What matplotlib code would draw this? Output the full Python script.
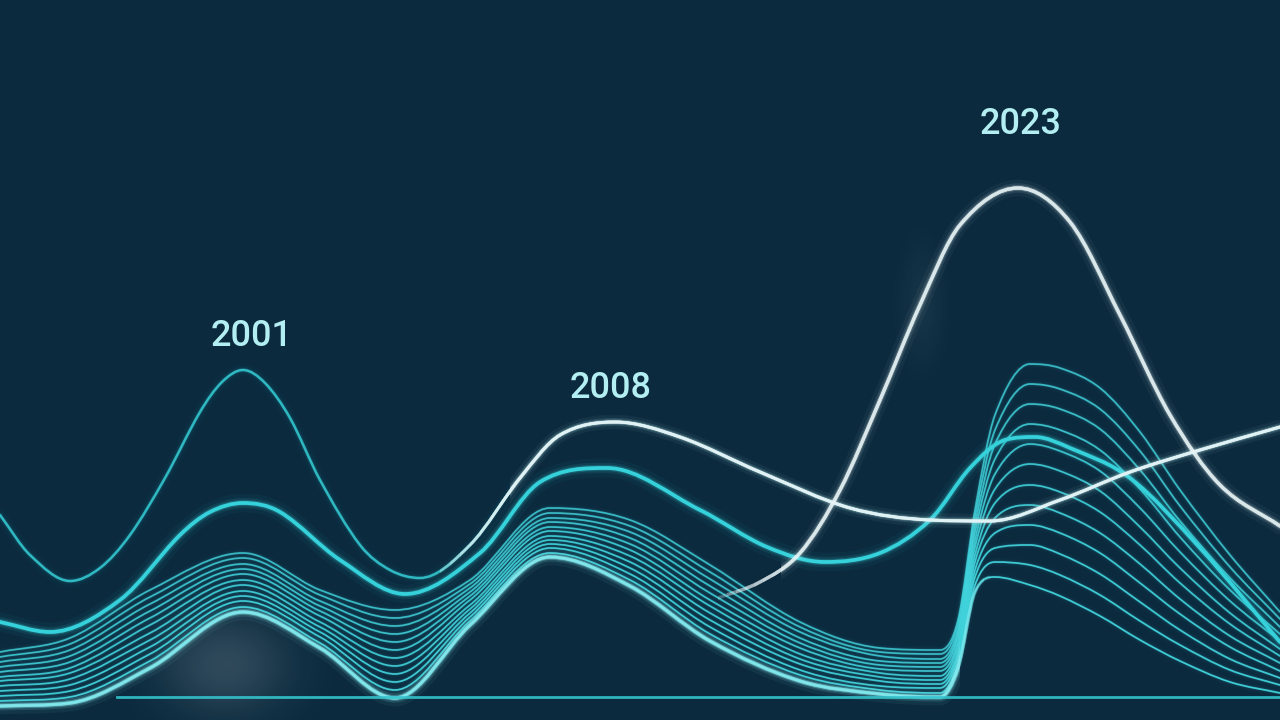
import numpy as np
import matplotlib
matplotlib.use("Agg")
import matplotlib.pyplot as plt
from matplotlib.path import Path
from matplotlib.patches import PathPatch, Rectangle

# --- data (x along the time axis, y as depth from the top of the frame) ---
labels = ["2001", "2008", "2023"]
label_x = [252, 611, 1021]
label_y = [336, 388, 125]

# thin wave that turns white after the 2001 dip
wave_a_x = [0, 30, 70, 100, 130, 165, 200, 222, 243, 265, 290, 320, 360, 390, 420, 470, 520, 560, 615, 680, 760, 850, 930, 990, 1060, 1130, 1200, 1280]
wave_a_y = [515, 555, 581, 568, 535, 478, 412, 382, 370, 383, 418, 480, 545, 570, 578, 545, 478, 435, 422, 437, 472, 508, 520, 521, 500, 472, 450, 427]

# thick cyan wave
wave_b_x = [0, 50, 120, 180, 210, 243, 280, 340, 405, 480, 540, 607, 700, 767, 825, 880, 930, 970, 1005, 1035, 1070, 1130, 1200, 1280]
wave_b_y = [622, 632, 600, 535, 512, 503, 512, 560, 594, 553, 482, 468, 510, 547, 562, 553, 520, 468, 440, 437, 448, 478, 548, 642]

# white wave with the 2023 peak
wave_c_x = [718, 760, 800, 840, 880, 920, 960, 1018, 1070, 1120, 1170, 1220, 1280]
wave_c_y = [598, 582, 553, 490, 400, 305, 225, 188, 222, 315, 415, 485, 526]

# bundle of 12 thin lines, one row per x position (top line first)
bundle_x = [0, 70, 150, 243, 320, 395, 470, 550, 630, 710, 800, 880, 940, 958, 975, 995, 1030,
            1060, 1100, 1140, 1180, 1230, 1280]
bundle_by_x = [
    [652, 657, 662, 667, 672, 677, 681, 686, 691, 696, 701, 706],
    [638, 644, 650, 656, 662, 668, 673, 679, 685, 691, 697, 703],
    [590, 597, 604, 611, 618, 625, 633, 640, 647, 654, 661, 668],
    [553, 558, 564, 569, 574, 580, 585, 591, 596, 601, 607, 612],
    [590, 595, 601, 606, 611, 616, 622, 627, 632, 637, 643, 648],
    [610, 618, 626, 634, 642, 650, 658, 666, 674, 682, 690, 698],
    [580, 584, 588, 592, 596, 600, 605, 609, 613, 617, 621, 625],
    [508, 513, 518, 522, 527, 531, 536, 540, 544, 548, 553, 557],
    [520, 526, 532, 538, 544, 550, 556, 562, 568, 574, 580, 586],
    [565, 572, 579, 586, 593, 600, 606, 613, 620, 627, 634, 641],
    [622, 627, 632, 638, 643, 648, 654, 659, 664, 670, 675, 681],
    [648, 652, 656, 661, 665, 669, 673, 677, 681, 686, 690, 694],
    [650, 654, 659, 663, 667, 671, 676, 680, 684, 688, 693, 697],
    [620, 624, 629, 633, 637, 642, 646, 651, 655, 659, 664, 668],
    [510, 517, 525, 532, 540, 547, 555, 562, 570, 577, 585, 592],
    [415, 430, 444, 459, 474, 489, 503, 518, 533, 548, 562, 577],
    [364, 384, 404, 424, 444, 464, 485, 505, 525, 545, 565, 585],
    [368, 389, 409, 430, 451, 471, 492, 513, 533, 554, 575, 596],
    [388, 409, 429, 450, 471, 491, 512, 533, 553, 574, 595, 616],
    [432, 451, 470, 489, 508, 527, 545, 564, 583, 602, 621, 640],
    [490, 506, 521, 537, 552, 568, 583, 599, 614, 630, 645, 661],
    [555, 567, 578, 590, 601, 613, 624, 636, 647, 659, 670, 682],
    [612, 619, 627, 634, 641, 649, 656, 663, 671, 678, 685, 693],
]

baseline_y = 697
baseline_start = 117

BG = "#0b2a3e"
CYAN = "#42d6df"
WHITE = "#eaf7f8"
TEXT = "#b3eef2"


def smooth_path(xs, ys):
    # cubic hermite handles (centred slopes, flat at turning points) -> bezier path
    xs = np.asarray(xs, float)
    ys = np.asarray(ys, float)
    h = np.diff(xs)
    d = np.diff(ys) / h
    m = np.zeros_like(xs)
    m[0], m[-1] = d[0], d[-1]
    for i in range(1, len(xs) - 1):
        if d[i - 1] * d[i] <= 0:
            m[i] = 0.0
        else:
            c = (ys[i + 1] - ys[i - 1]) / (xs[i + 1] - xs[i - 1])
            lim = 3 * min(abs(d[i - 1]), abs(d[i]))
            m[i] = np.sign(c) * min(abs(c), lim)
    verts = [(xs[0], ys[0])]
    codes = [Path.MOVETO]
    for i in range(len(xs) - 1):
        verts += [(xs[i] + h[i] / 3, ys[i] + m[i] * h[i] / 3),
                  (xs[i + 1] - h[i] / 3, ys[i + 1] - m[i + 1] * h[i] / 3),
                  (xs[i + 1], ys[i + 1])]
        codes += [Path.CURVE4] * 3
    return Path(verts, codes)


def draw(ax, path, color, lw, alpha=1.0, glow=0.0, clip=None):
    layers = [(lw, alpha)]
    if glow > 0:
        layers = [(lw * 5, glow * 0.2), (lw * 2.8, glow * 0.45), (lw * 1.7, glow)] + layers
    for w, a in layers:
        p = PathPatch(path, fill=False, edgecolor=color, lw=w, alpha=a,
                      capstyle="round", joinstyle="round")
        ax.add_patch(p)
        if clip is not None:
            p.set_clip_path(clip)


def glow_spot(ax, cx, cy, sx, sy, strength, color=(1, 1, 1)):
    gx = np.arange(cx - 4 * sx, cx + 4 * sx)
    gy = np.arange(cy - 4 * sy, cy + 4 * sy)
    X, Y = np.meshgrid(gx, gy)
    a = strength * np.exp(-((X - cx) ** 2 / (2 * sx ** 2) + (Y - cy) ** 2 / (2 * sy ** 2)))
    img = np.zeros(X.shape + (4,))
    img[..., :3] = color
    img[..., 3] = a
    ax.imshow(img, extent=(gx[0], gx[-1], gy[-1], gy[0]), interpolation="bilinear", zorder=0.5)


fig = plt.figure(figsize=(12.8, 7.2), dpi=100, facecolor=BG)
ax = fig.add_axes([0, 0, 1, 1])
ax.set_facecolor(BG)
ax.set_xlim(0, 1280)
ax.set_ylim(720, 0)
ax.axis("off")

glow_spot(ax, 225, 665, 45, 35, 0.15)
glow_spot(ax, 922, 305, 15, 40, 0.05)

# baseline
ax.plot([baseline_start, 1280], [baseline_y, baseline_y], color="#35c3cc", lw=2.0, alpha=0.9)

# bundle
bundle = np.array(bundle_by_x).T
n = len(bundle)
for k, row in enumerate(bundle):
    path = smooth_path(bundle_x, row)
    draw(ax, path, CYAN, 1.25, 0.8 + 0.15 * k / n, glow=0.1)
    if k == n - 1:
        # bright lower edge, fading out on the steep 2023 rise
        for s in range(6):
            x1 = 960 + s * 6
            clip = Rectangle((0, 0), x1, 720, transform=ax.transData)
            draw(ax, path, "#8aeef2", 2.4, 0.2 if s else 0.4, glow=0.3 if s == 0 else 0.0, clip=clip)

# wave B
draw(ax, smooth_path(wave_b_x, wave_b_y), "#36d2dc", 2.7, 1.0, glow=0.22)

# wave A: cyan first, white from the 2008 rise on
path_a = smooth_path(wave_a_x, wave_a_y)
draw(ax, path_a, "#2fb9c2", 1.8, 1.0, glow=0.12)
steps = 8
for s in range(steps):
    x0 = 440 + s * 10
    clip = Rectangle((x0, 0), 1280 - x0, 720, transform=ax.transData)
    draw(ax, path_a, WHITE, 2.1, 0.3, glow=0.0 if s < steps - 1 else 0.22, clip=clip)

# wave C: fades in from the bundle
path_c = smooth_path(wave_c_x, wave_c_y)
for s in range(steps):
    x0 = 718 + s * 9
    clip = Rectangle((x0, 0), 1280 - x0, 720, transform=ax.transData)
    draw(ax, path_c, WHITE, 2.4, 0.25, glow=0.0 if s < steps - 1 else 0.22, clip=clip)

for t, x, y in zip(labels, label_x, label_y):
    ax.text(x, y, t, ha="center", va="center", fontsize=26, color=TEXT,
            family="Roboto", fontweight="medium")

fig.savefig("out.png", dpi=100, facecolor=BG)
